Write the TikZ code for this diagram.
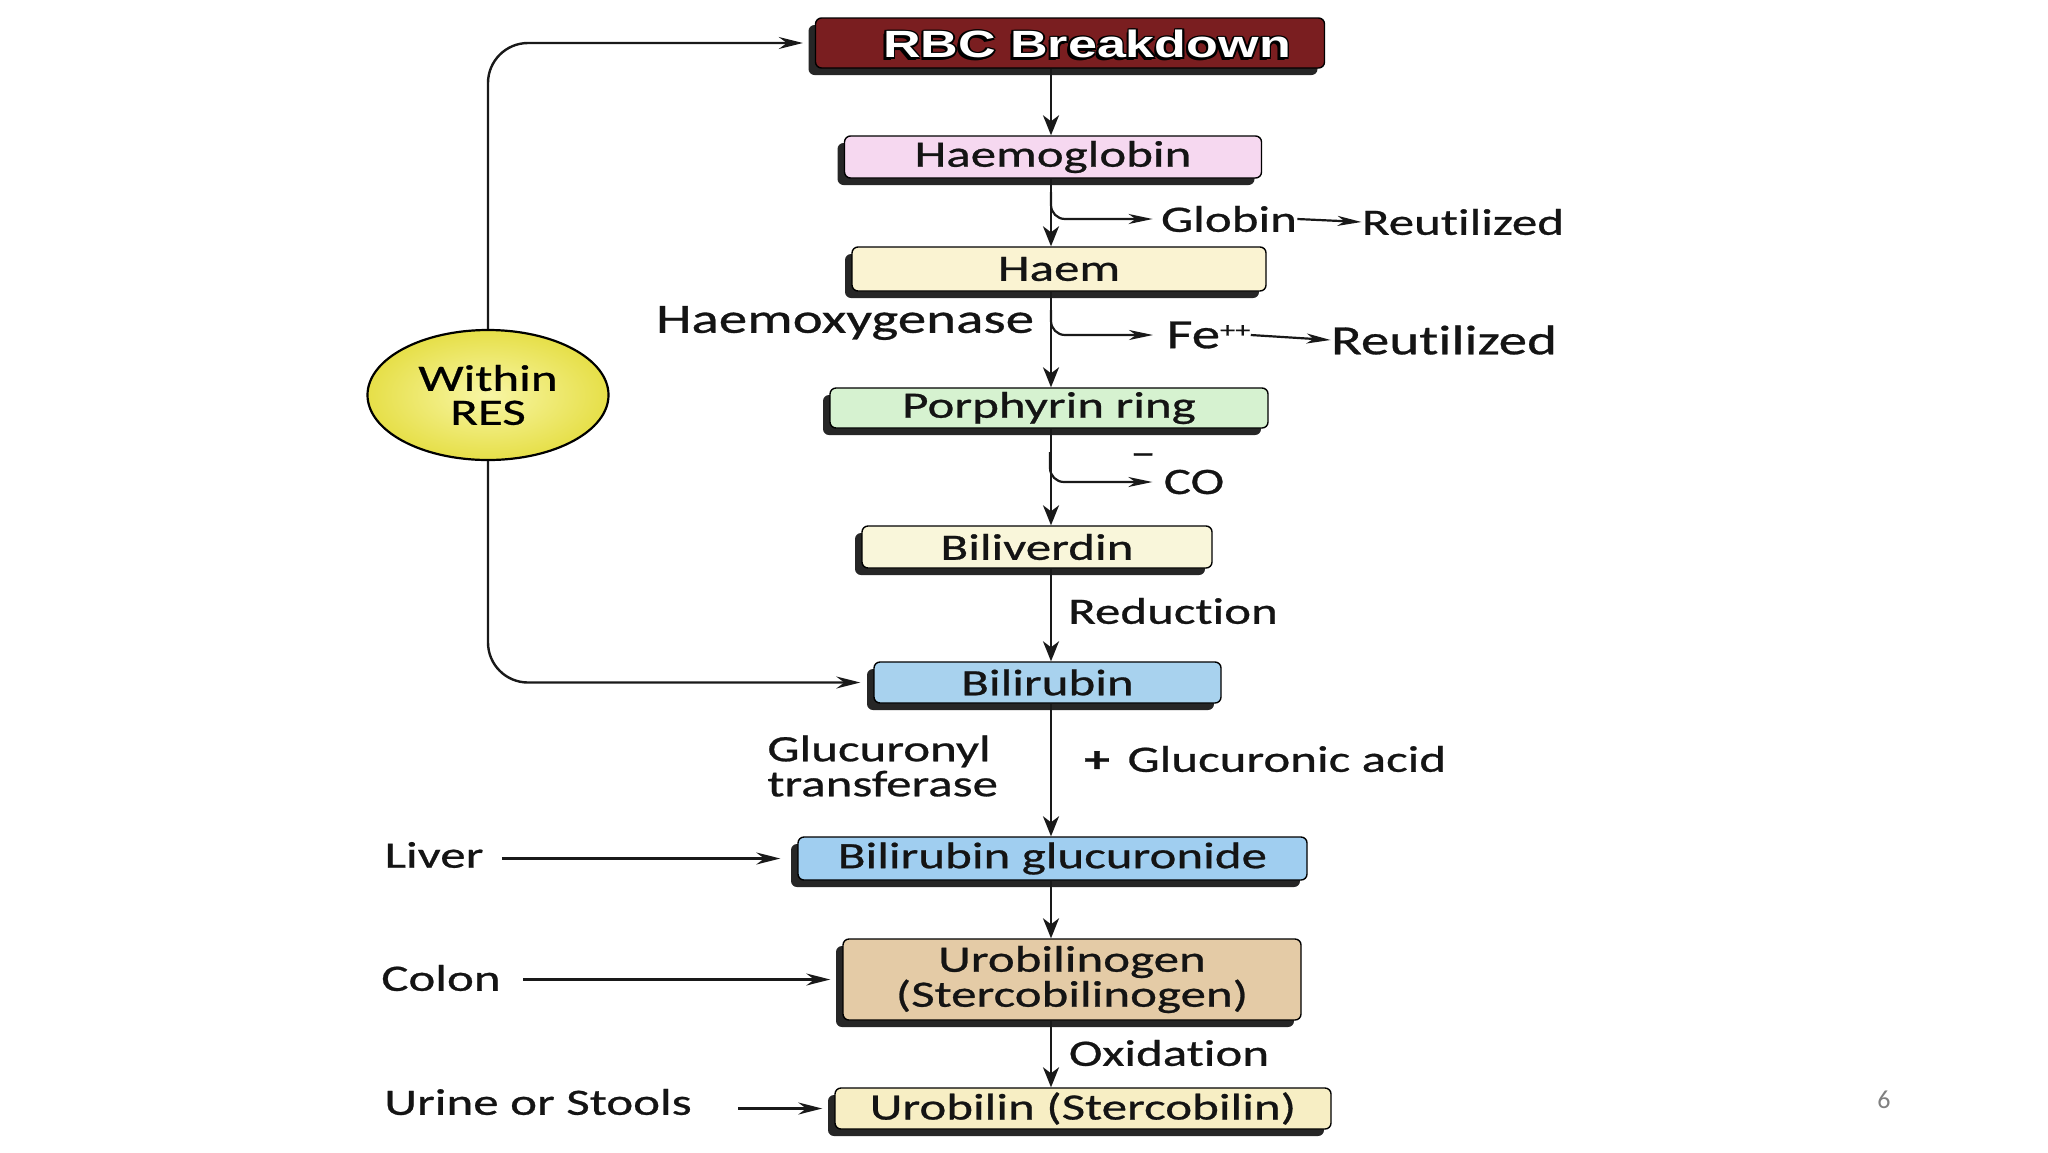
\documentclass[tikz,border=0pt]{standalone}
\usepackage{fontspec}
\setmainfont{Carlito}
\newfontfamily\lab[FakeStretch=1.37,FakeBold=0.7,Ligatures=NoCommon]{Carlito}
\newfontfamily\rbcfont[FakeStretch=1.37]{Liberation Sans}
\newfontfamily\pgfont{Carlito}
\usetikzlibrary{arrows.meta,shapes.geometric,shadows,calc}
\definecolor{cRBC}{RGB}{122,30,32}
\definecolor{cHb}{RGB}{246,216,240}
\definecolor{cHaem}{RGB}{250,243,210}
\definecolor{cPor}{RGB}{214,242,208}
\definecolor{cBv}{RGB}{249,246,218}
\definecolor{cBr}{RGB}{168,210,238}
\definecolor{cBg}{RGB}{160,206,240}
\definecolor{cUg}{RGB}{228,203,166}
\definecolor{cUb}{RGB}{247,238,196}
\definecolor{cResIn}{RGB}{248,246,165}
\definecolor{cResOut}{RGB}{230,223,72}
\newcommand{\rbctxt}{\rbcfont\bfseries\fontsize{19pt}{19pt}\selectfont RBC Breakdown}
\newcommand{\olcopy}[2]{\rlap{\kern#1\raisebox{#2}{\color{black}\rbctxt}}}
\newcommand{\outlinedrbc}{\olcopy{0.9pt}{0pt}\olcopy{-0.9pt}{0pt}\olcopy{0pt}{0.9pt}\olcopy{0pt}{-0.9pt}%
  \olcopy{0.64pt}{0.64pt}\olcopy{-0.64pt}{0.64pt}\olcopy{0.64pt}{-0.64pt}\olcopy{-0.64pt}{-0.64pt}%
  \olcopy{-1.3pt}{-1.5pt}{\color{white}\rbctxt}}
\begin{document}
\begin{tikzpicture}[x=0.5pt,y=-0.5pt,
  lbl/.style={font=\lab\fontsize{18.6pt}{17.5pt}\selectfont, inner sep=0pt, text=black!92},
  biglbl/.style={font=\lab\fontsize{20.8pt}{20pt}\selectfont, inner sep=0pt, text=black!92},
  box/.style={draw=black, line width=0.7pt, rounded corners=3pt, inner sep=0pt, align=center,
    text=black!92, font=\lab\fontsize{18.6pt}{17.5pt}\selectfont,
    drop shadow={shadow xshift=-3.5pt, shadow yshift=-3.5pt, opacity=1, fill=black!85}},
  arr/.style={-{Stealth[length=10pt,width=8pt,inset=3pt]}, line width=1.25pt, draw=black!90},
  harr/.style={-{Stealth[length=12pt,width=6pt,inset=4pt]}, line width=1.2pt, draw=black!90},
  barr/.style={-{Stealth[length=12pt,width=5pt,inset=3.5pt]}, line width=1.1pt, draw=black!90}]
\useasboundingbox[fill=white] (0,0) rectangle (2048,1152);

% main boxes
\node[box, fill=cRBC, minimum width=254.5pt, minimum height=25pt] (rbc) at (1070,43) {};
\node[box, fill=cHb, minimum width=208.5pt, minimum height=21pt] (hb) at (1053,157) {Haemoglobin};
\node[box, fill=cHaem, minimum width=207pt, minimum height=22pt] (haem) at (1059,269) {Haem};
\node[box, fill=cPor, minimum width=219pt, minimum height=20pt] (por) at (1049,408) {Porphyrin ring};
\node[box, fill=cBv, minimum width=175pt, minimum height=21pt] (bv) at (1037,547) {Biliverdin};
\node[box, fill=cBr, minimum width=173.5pt, minimum height=20.5pt] (br) at (1047.5,682.5) {Bilirubin};
\node[box, fill=cBg, minimum width=254.5pt, minimum height=21.5pt] (bg) at (1052.5,858.5) {Bilirubin glucuronide};
\node[box, fill=cUg, minimum width=229pt, minimum height=40.5pt] (ug) at (1072,979.5) {Urobilinogen\\(Stercobilinogen)};
\node[box, fill=cUb, minimum width=248pt, minimum height=20.5pt] (ub) at (1083,1108.5) {Urobilin (Stercobilin)};

% RBC outlined text
\node[inner sep=0pt] (rbctext) at (1087,45) {\outlinedrbc};

% axis arrows
\coordinate (ax) at (1051,0);
\draw[arr] (rbc.south -| ax) -- (hb.north -| ax);
\draw[arr] (hb.south -| ax) -- (haem.north -| ax);
\draw[arr] (haem.south -| ax) -- (por.north -| ax);
\draw[arr] (por.south -| ax) -- (bv.north -| ax);
\draw[arr] (bv.south -| ax) -- (br.north -| ax);
\draw[arr] (br.south -| ax) -- (bg.north -| ax);
\draw[arr] (bg.south -| ax) -- (ug.north -| ax);
\draw[arr] (ug.south -| ax) -- (ub.north -| ax);

% Globin branch
\node[lbl] (globin) at (1229,219) {Globin};
\node[lbl] (reut1) at (1463,222) {Reutilized};
\coordinate (gstart) at (1051,192);
\draw[barr, rounded corners=7pt, shorten >=4pt] (gstart) |- (globin.west);
\draw[barr] (globin.east) -- (reut1.west);

% Fe branch
\node[biglbl] (hox) at (845,323) {Haemoxygenase};
\node[biglbl, anchor=west] (fe) at (1166,335) {Fe\raisebox{0.55ex}{\fontsize{11pt}{11pt}\selectfont ++}};
\node[biglbl] (reut2) at (1444,340) {Reutilized};
\coordinate (fstart) at (1051,310);
\draw[barr, rounded corners=7pt, shorten >=6.5pt] (fstart) |- (fe.west);
\draw[barr] (fe.east) -- (reut2.west);

% CO branch
\node[lbl] (co) at (1194,482) {CO};
\node[lbl] (minus) at (1143,459) {–};
\coordinate (cstart) at (1050,452);
\draw[barr, rounded corners=7pt, shorten >=5.5pt] (cstart) |- (co.west);

% side labels
\node[lbl] (red) at (1173,611) {Reduction};
\node[lbl, anchor=west, align=left] (gt) at (767,766) {Glucuronyl\\transferase};
\node[lbl, anchor=west] (ga) at (1084,759) {{\bfseries +}\ \,Glucuronic acid};
\node[lbl] (ox) at (1169,1053) {Oxidation};

% left labels
\node[lbl] (liver) at (434,855) {Liver};
\node[lbl] (colon) at (441,978) {Colon};
\node[lbl] (urine) at (538,1102) {Urine or Stools};
\draw[harr, shorten >=8.5pt] ([xshift=9pt]liver.east |- bg.west) -- (bg.west);
\draw[harr, shorten >=6pt] ([xshift=11pt]colon.east |- ug.west) -- (ug.west);
\draw[harr, shorten >=6pt] ([xshift=23pt]urine.east |- ub.west) -- (ub.west);

% Within RES
\node[ellipse, draw=black, line width=1.1pt, inner color=cResIn, outer color=cResOut,
  minimum width=120.5pt, minimum height=65pt, inner sep=0pt, align=center,
  font=\lab\fontsize{18.6pt}{17pt}\selectfont] (res) at (488,395) {Within\\RES};
\draw[harr, rounded corners=20pt, shorten >=6pt] (res.north) |- (rbc.west);
\draw[harr, rounded corners=20pt, shorten >=6.5pt] (res.south) |- (br.west);

% page number
\node[font=\pgfont\fontsize{13pt}{13pt}\selectfont, text=black!50, inner sep=0pt] (pg) at (1884,1100) {6};
\end{tikzpicture}
\end{document}
